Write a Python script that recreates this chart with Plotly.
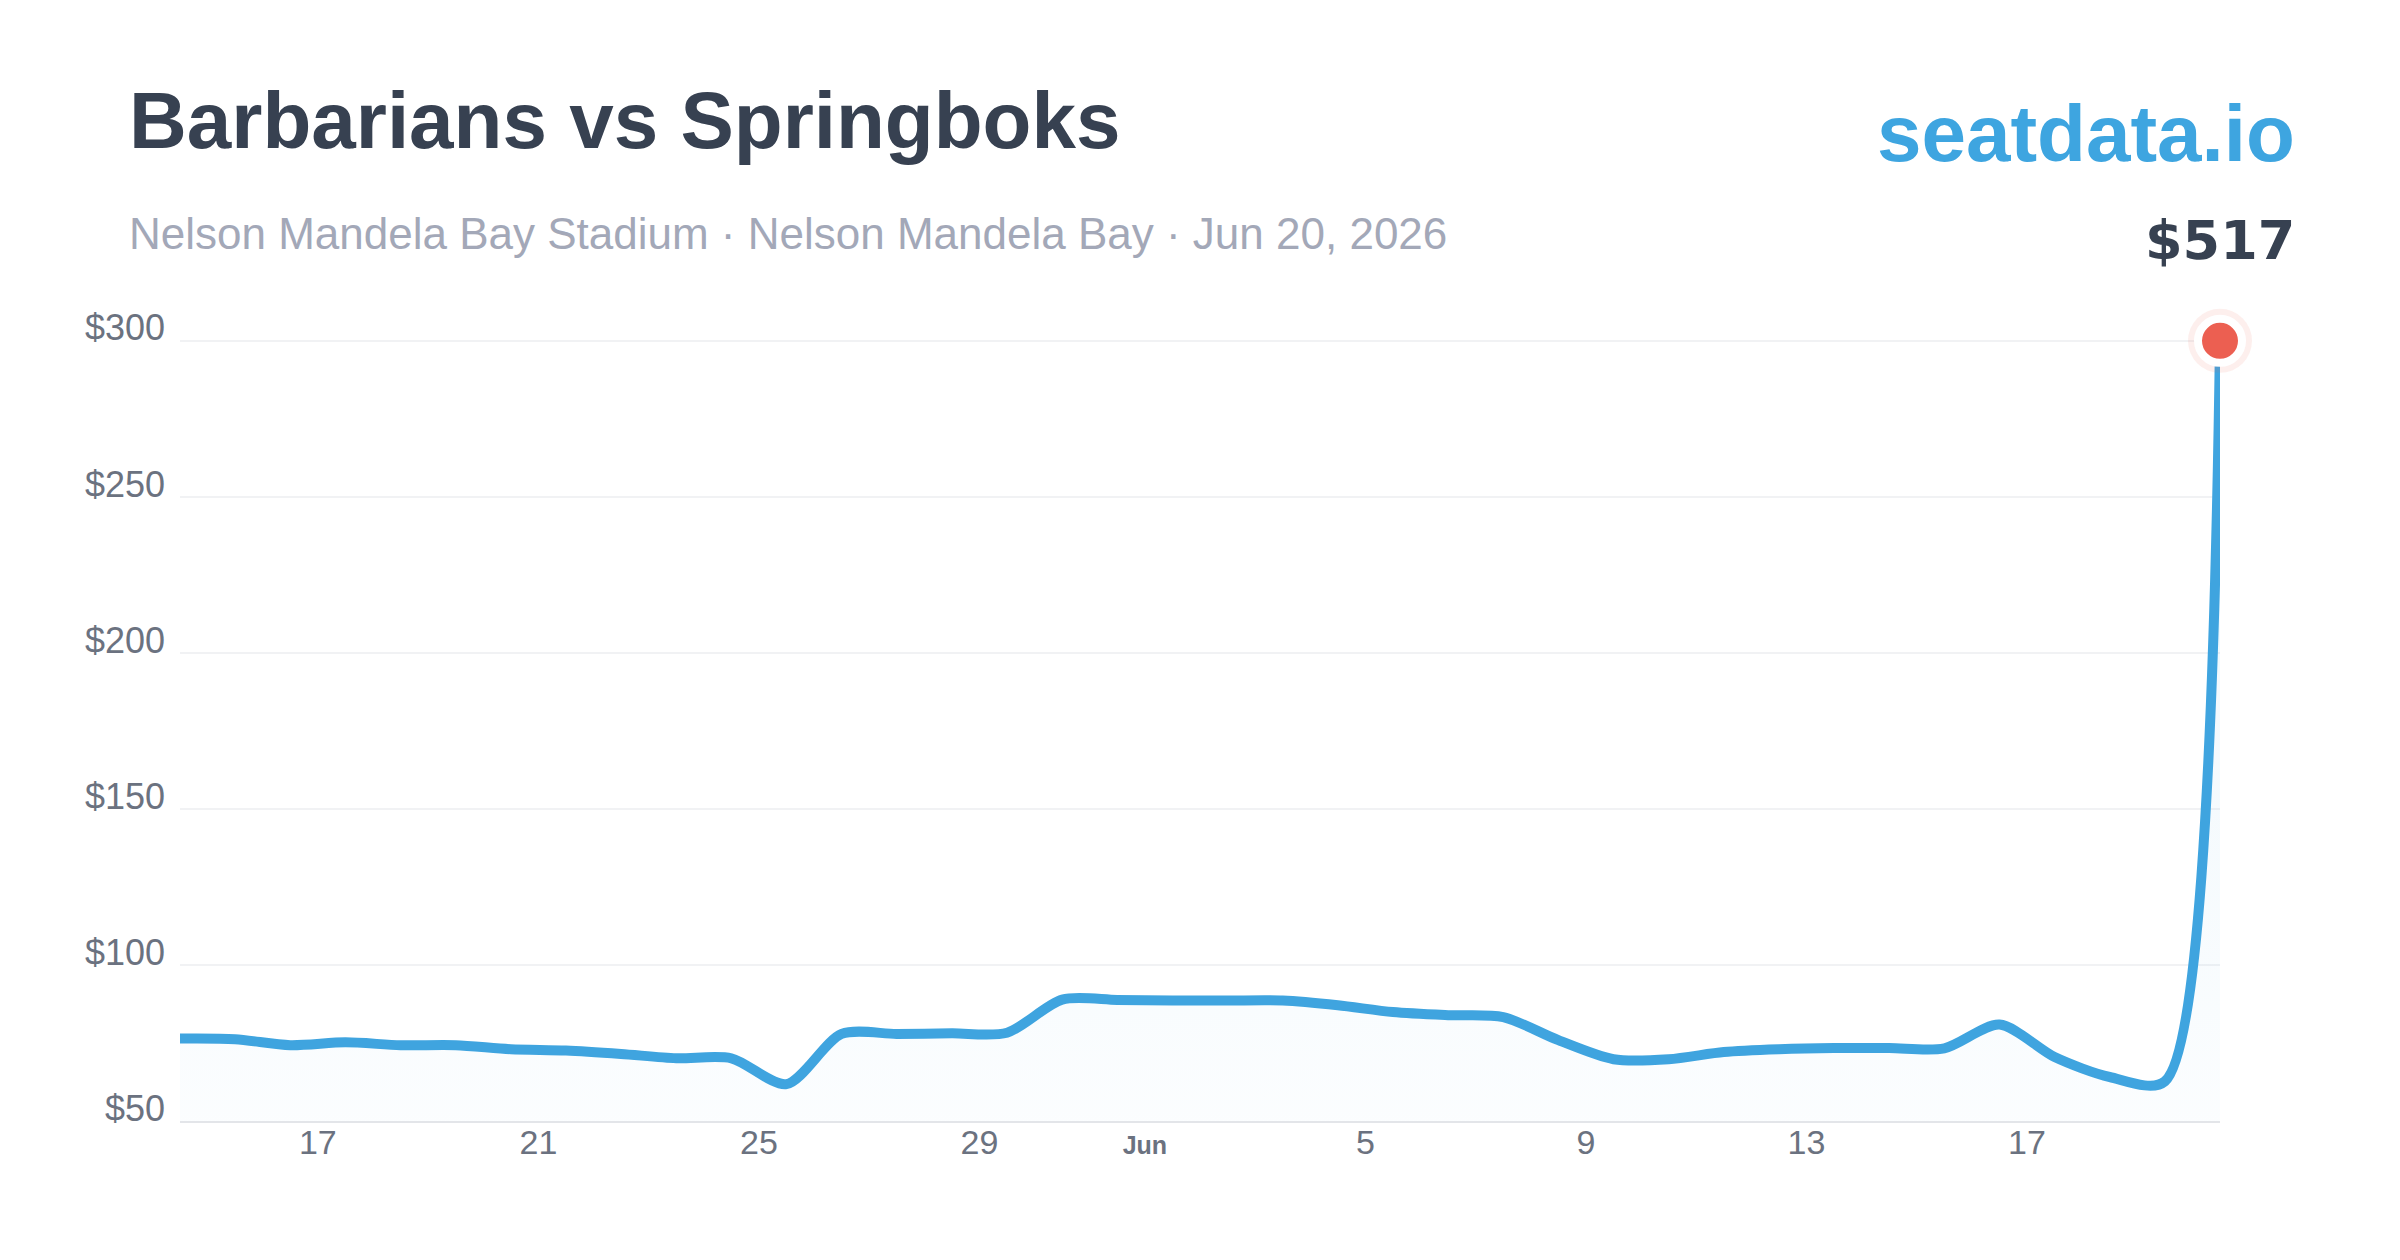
import plotly.graph_objects as go
import numpy as np

# ---- data ----
dates = [
    "2026-05-14 12:00", "2026-05-15 12:00", "2026-05-16 12:00", "2026-05-17 12:00",
    "2026-05-18 12:00", "2026-05-19 12:00", "2026-05-20 12:00", "2026-05-21 12:00",
    "2026-05-22 12:00", "2026-05-23 12:00", "2026-05-24 12:00", "2026-05-25 12:00",
    "2026-05-26 12:00", "2026-05-27 12:00", "2026-05-28 12:00", "2026-05-29 12:00",
    "2026-05-30 12:00", "2026-05-31 12:00", "2026-06-01 12:00", "2026-06-02 12:00",
    "2026-06-03 12:00", "2026-06-04 12:00", "2026-06-05 12:00", "2026-06-06 12:00",
    "2026-06-07 12:00", "2026-06-08 12:00", "2026-06-09 12:00", "2026-06-10 12:00",
    "2026-06-11 12:00", "2026-06-12 12:00", "2026-06-13 12:00", "2026-06-14 12:00",
    "2026-06-15 12:00", "2026-06-16 12:00", "2026-06-17 12:00", "2026-06-18 12:00",
    "2026-06-19 12:00", "2026-06-20 12:00",
]
prices = [
    76.4, 76.2, 74.3, 75.2, 74.3, 74.3, 73.0, 72.6, 71.5, 70.1,
    70.1, 61.8, 77.9, 77.9, 78.1, 78.3, 88.9, 88.8, 88.6, 88.6,
    88.6, 87.1, 84.9, 83.9, 83.3, 75.9, 69.8, 69.8, 72.1, 73.0,
    73.4, 73.4, 73.3, 80.9, 70.5, 64.1, 62.7, 517.0,
]
y_tick_vals = [50, 100, 150, 200, 250, 300]
y_tick_text = ["$50", "$100", "$150", "$200", "$250", "$300"]
x_tick_vals = ["2026-05-17", "2026-05-21", "2026-05-25", "2026-05-29", "2026-06-01",
               "2026-06-05", "2026-06-09", "2026-06-13", "2026-06-17"]
x_tick_text = ["17", "21", "25", "29", "<b><span style='font-size:25px'>Jun</span></b>",
               "5", "9", "13", "17"]

title = "Barbarians vs Springboks"
subtitle = "Nelson Mandela Bay Stadium · Nelson Mandela Bay · Jun 20, 2026"
brand = "seatdata.io"
current_price = "$517"

Y_MIN, Y_MAX = 50, 300
LINE = "#3fa4df"
RED = "#ec5f51"

shown = list(np.minimum(np.array(prices), Y_MAX))

fig = go.Figure()
fig.add_trace(go.Scatter(
    x=dates, y=shown, mode="lines",
    line=dict(color=LINE, width=10, shape="spline", smoothing=0.8),
    fill="tozeroy",
    fillgradient=dict(type="vertical", start=Y_MIN, stop=Y_MAX,
                      colorscale=[[0, "rgba(63,164,223,0.02)"], [1, "rgba(63,164,223,0.10)"]]),
    hoverinfo="skip", showlegend=False,
))
fig.add_trace(go.Scatter(
    x=[dates[-1]], y=[shown[-1]], mode="markers",
    marker=dict(size=64, color="rgba(236,95,81,0.10)", line=dict(width=0)),
    cliponaxis=False, hoverinfo="skip", showlegend=False,
))
fig.add_trace(go.Scatter(
    x=[dates[-1]], y=[shown[-1]], mode="markers",
    marker=dict(size=44, color=RED, line=dict(color="white", width=8)),
    cliponaxis=False, hoverinfo="skip", showlegend=False,
))

L, R, T, B = 180, 180, 339, 139
W, H = 2400, 1260
plot_h = H - T - B
plot_w = W - L - R

def px_x(p):
    return (p - L) / plot_w

def px_y(p):
    return (H - B - p) / plot_h

fig.update_layout(
    width=W, height=H,
    margin=dict(l=L, r=R, t=T, b=B),
    paper_bgcolor="white", plot_bgcolor="white",
    font=dict(family="Liberation Sans, Arial, sans-serif", color="#6b7280"),
    xaxis=dict(
        type="date", range=[dates[0], dates[-1]],
        tickvals=x_tick_vals, ticktext=x_tick_text,
        showgrid=False, zeroline=False,
        showline=True, linecolor="#e3e5e9", linewidth=2,
        ticks="", ticklabelstandoff=-10,
        tickfont=dict(size=34, color="#6b7280"),
    ),
    yaxis=dict(
        range=[Y_MIN, Y_MAX + 0.6], tickvals=y_tick_vals, ticktext=y_tick_text,
        showgrid=True, gridcolor="#f1f2f4", gridwidth=2,
        zeroline=False, showline=False, ticks="",
        ticklabelshift=-13, ticklabelstandoff=14,
        tickfont=dict(size=36, color="#6b7280"),
    ),
    annotations=[
        dict(text="<b>" + title + "</b>", xref="paper", yref="paper",
             x=px_x(127), y=px_y(121), xanchor="left", yanchor="middle",
             showarrow=False, font=dict(size=80, color="#374151", family="Liberation Sans")),
        dict(text=subtitle, xref="paper", yref="paper",
             x=px_x(127), y=px_y(233), xanchor="left", yanchor="middle",
             showarrow=False, font=dict(size=44, color="#a3a8b8", family="Liberation Sans")),
        dict(text="<b>" + brand + "</b>", xref="paper", yref="paper",
             x=px_x(2297), y=px_y(133), xanchor="right", yanchor="middle",
             showarrow=False, font=dict(size=80, color="#3ea5e0", family="Liberation Sans")),
        dict(text="<b>" + current_price + "</b>", xref="paper", yref="paper",
             x=px_x(2297), y=px_y(240), xanchor="right", yanchor="middle",
             showarrow=False, font=dict(size=54, color="#374151", family="DejaVu Sans")),
    ],
)

fig.write_html("out.html")
